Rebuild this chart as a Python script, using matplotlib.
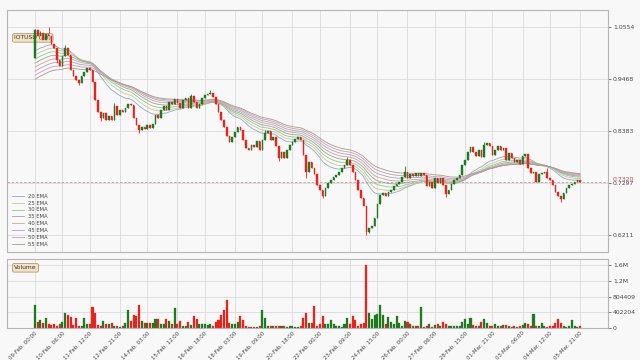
import numpy as np
import pandas as pd
import matplotlib
matplotlib.use("Agg")
import matplotlib.pyplot as plt
import matplotlib.transforms as mtransforms

# =========================
# Data (IOTUSD, 3h candles)
# =========================
first_open = 0.9907

closes = [
    1.0492, 1.0366, 1.0429, 1.0283, 1.0408, 1.0366, 1.0199, 1.0116, 0.9865, 0.9740,
    0.9949, 1.0116, 0.9970, 0.9656, 0.9531, 0.9448, 0.9385, 0.9531, 0.9615, 0.9698,
    0.9656, 0.9406, 0.9030, 0.8779, 0.8654, 0.8759, 0.8612, 0.8696, 0.8612, 0.8905,
    0.8717, 0.8821, 0.8779, 0.8863, 0.8946, 0.8926, 0.8654, 0.8508, 0.8404, 0.8466,
    0.8424, 0.8508, 0.8445, 0.8529, 0.8717, 0.8654, 0.8821, 0.8905, 0.8821, 0.8988,
    0.8946, 0.9051, 0.8967, 0.8863, 0.9030, 0.9072, 0.8863, 0.9114, 0.8988, 0.8863,
    0.8946, 0.9072, 0.9134, 0.9155, 0.9176, 0.9093, 0.8946, 0.8779, 0.8612, 0.8466,
    0.8278, 0.8153, 0.8257, 0.8362, 0.8466, 0.8404, 0.8195, 0.8028, 0.7986, 0.8090,
    0.8049, 0.8174, 0.7986, 0.8195, 0.8341, 0.8383, 0.8195, 0.8257, 0.8070, 0.7819,
    0.7944, 0.7819, 0.7986, 0.8090, 0.8153, 0.8216, 0.8257, 0.8195, 0.7882, 0.7527,
    0.7735, 0.7610, 0.7485, 0.7255, 0.7151, 0.7026, 0.7193, 0.7297, 0.7360, 0.7422,
    0.7464, 0.7527, 0.7610, 0.7673, 0.7777, 0.7673, 0.7527, 0.7360, 0.7151, 0.6984,
    0.6817, 0.6274, 0.6357, 0.6399, 0.6566, 0.6858, 0.7046, 0.7088, 0.7026, 0.7109,
    0.7151, 0.7234, 0.7276, 0.7318, 0.7422, 0.7527, 0.7401, 0.7485, 0.7443, 0.7506,
    0.7443, 0.7506, 0.7464, 0.7234, 0.7318, 0.7193, 0.7401, 0.7297, 0.7401, 0.7255,
    0.7067, 0.7151, 0.7276, 0.7360, 0.7401, 0.7464, 0.7673, 0.7777, 0.7944, 0.8049,
    0.7944, 0.7861, 0.7986, 0.7840, 0.8090, 0.8132, 0.8070, 0.7882, 0.7986, 0.8070,
    0.7986, 0.8028, 0.7777, 0.7923, 0.7819, 0.7735, 0.7777, 0.7694, 0.7861, 0.7902,
    0.7610, 0.7506, 0.7527, 0.7318, 0.7485, 0.7506, 0.7527, 0.7401, 0.7360, 0.7255,
    0.7109, 0.7026, 0.6963, 0.7088, 0.7193, 0.7255, 0.7276, 0.7318, 0.7360, 0.7320,
]

# wicks that stick out of the bodies (index: price)
high_wicks = {0: 1.0510, 2: 1.0470, 5: 1.0554, 11: 1.0180, 29: 0.8967, 57: 0.9155,
              64: 0.9230, 84: 0.8400, 114: 0.7840, 135: 0.7650, 164: 0.8150,
              187: 0.7610}
low_wicks = {8: 0.9800, 16: 0.9350, 24: 0.8590, 38: 0.8340, 89: 0.7760,
             99: 0.7400, 105: 0.6980, 121: 0.62112, 122: 0.6250, 150: 0.7000,
             192: 0.6900}

# volume in thousands
volumes_k = [
    587, 150, 200, 130, 250, 105, 70, 95, 60, 105,
    140, 376, 330, 280, 70, 245, 45, 45, 250, 90,
    90, 542, 376, 80, 45, 184, 105, 105, 130, 45,
    45, 26, 45, 130, 455, 175, 330, 305, 577, 175,
    120, 120, 130, 115, 218, 218, 95, 105, 218, 184,
    105, 507, 90, 175, 60, 45, 150, 70, 305, 236,
    95, 95, 90, 70, 95, 45, 150, 200, 323, 455,
    717, 120, 90, 90, 157, 305, 200, 45, 26, 20,
    26, 35, 60, 463, 245, 60, 60, 45, 45, 60,
    45, 60, 26, 45, 60, 26, 26, 60, 245, 393,
    130, 130, 568, 60,
    90, 305, 90, 105, 200, 90, 60, 45, 26, 90,
    262, 90, 305, 200, 60, 90, 130, 1608.818, 393, 236,
    323, 350, 585, 323, 90, 290, 157, 90, 305, 130,
    45, 166, 157, 90, 60, 60, 60, 525, 26, 60,
    90, 26, 70, 90, 45, 150, 90, 60, 45, 45,
    60, 60, 150, 236, 90, 250, 70, 45, 60, 150,
    218, 130, 60, 45, 90, 60, 60, 80, 80, 45,
    26, 45, 26, 45, 70, 130, 100, 45, 350, 45,
    60, 130, 45, 26, 45, 45, 130, 218, 130, 45,
    26, 45, 200, 45, 26, 45,
]

ema_periods = [20, 25, 30, 35, 40, 45, 50, 55]
ema_seeds = [1.0011, 0.9928, 0.9844, 0.9761, 0.9677, 0.9594, 0.9510, 0.9427]
ema_colors = ["#8fa8c8", "#c8c890", "#90c890", "#a0a0a0",
              "#c8a890", "#b0a0c8", "#c8a0b8", "#a89a8a"]

start = "2018-02-09 00:00"
symbol = "IOTUSD (3h)"

# =========================
# Prepare
# =========================
closes = np.array(closes)
opens = np.concatenate([[first_open], closes[:-1]])
highs = np.maximum(opens, closes)
lows = np.minimum(opens, closes)
for k, v in high_wicks.items():
    highs[k] = max(highs[k], v)
for k, v in low_wicks.items():
    lows[k] = min(lows[k], v)
volumes = np.array(volumes_k) * 1000.0
n = len(closes)
idx = np.arange(n)
dates = pd.date_range(start, periods=n, freq="3h")

up = closes >= opens
green = "#1f7a1f"
red = "#e8231c"
colors = np.where(up, green, red)

bg = "#f7f8f7"
grid_c = "#dadada"
frame_c = "#b5b5b5"

fig = plt.figure(figsize=(6.4, 3.6), dpi=100, facecolor=bg)
ax = fig.add_axes([0.011, 0.30, 0.939, 0.672], facecolor=bg)
axv = fig.add_axes([0.011, 0.089, 0.939, 0.192], facecolor=bg, sharex=ax)

# EMAs
for p, s, c in zip(ema_periods, ema_seeds, ema_colors):
    alpha = 2.0 / (p + 1)
    e = s
    vals = []
    for cl in closes:
        e = e + alpha * (cl - e)
        vals.append(e)
    ax.plot(idx, vals, color=c, lw=0.6, label=f"{p} EMA", zorder=2)

# candles
ax.vlines(idx, lows, highs, colors=colors, lw=0.6, zorder=3)
body = np.abs(closes - opens)
body = np.maximum(body, 0.0015)
ax.bar(idx, body, bottom=np.minimum(opens, closes), width=0.6,
       color=colors, edgecolor=colors, lw=0.3, zorder=4)

# last price
last = closes[-1]
ax.axhline(last, color="#c89a9a", lw=0.6, ls=(0, (3, 2)), zorder=1)
trans = mtransforms.blended_transform_factory(ax.transAxes, ax.transData)
ax.text(1.008, last, f"{last:.4f}", transform=trans, color="#c84040",
        fontsize=4.4, va="bottom", ha="left")

pmin, pmax = lows.min(), highs.max()
pad = (pmax - pmin) * 0.082
ax.set_ylim(pmin - pad, pmax + pad)
pt = np.linspace(pmin, pmax, 5)
ax.set_yticks(pt)
ax.set_yticklabels([f"{v:.4f}" for v in pt])
ax.set_xlim(-10.2, n + 9.2)

ax.text(0.012, 0.885, symbol, transform=ax.transAxes, fontsize=4.3,
        va="center", ha="left", color="#333333",
        bbox=dict(boxstyle="round,pad=0.3", fc="#f2e2c6", ec="#b89868", lw=0.6))

leg = ax.legend(loc="lower left", fontsize=3.8, frameon=False,
                handlelength=2.2, labelspacing=0.35, borderaxespad=0.6,
                handletextpad=0.8)
for t in leg.get_texts():
    t.set_color("#444444")

# volume
axv.bar(idx, volumes, width=0.75, color=colors, edgecolor=colors, lw=0.2)
vmax = volumes.max()
axv.set_ylim(0, vmax * 1.1)
vt = np.linspace(0, vmax, 5)
axv.set_yticks(vt)
axv.set_yticklabels([f"{v / 1e6:.1f}M" if v >= 1e6 else str(int(v)) for v in vt])
axv.text(0.012, 0.87, "Volume", transform=axv.transAxes, fontsize=4.3,
         va="center", ha="left", color="#333333",
         bbox=dict(boxstyle="round,pad=0.3", fc="#f2e2c6", ec="#b89868", lw=0.6))

tick_idx = np.floor(np.linspace(0, n - 1, 20)).astype(int)
axv.set_xticks(tick_idx)
axv.set_xticklabels([dates[i].strftime("%d-%b. %H:%M") for i in tick_idx],
                    rotation=45, ha="right", rotation_mode="anchor")
plt.setp(ax.get_xticklabels(), visible=False)

for a in (ax, axv):
    a.grid(True, color=grid_c, lw=0.6)
    a.set_axisbelow(True)
    a.yaxis.tick_right()
    a.tick_params(axis="y", labelsize=4.4, colors="#444444", length=2,
                  width=0.5, pad=1.5)
    for sp in a.spines.values():
        sp.set_color(frame_c)
        sp.set_linewidth(0.8)
ax.tick_params(axis="x", length=0)
axv.tick_params(axis="x", labelsize=3.9, colors="#444444", length=0, pad=2)

fig.savefig("out.png", dpi=100, facecolor=bg)
